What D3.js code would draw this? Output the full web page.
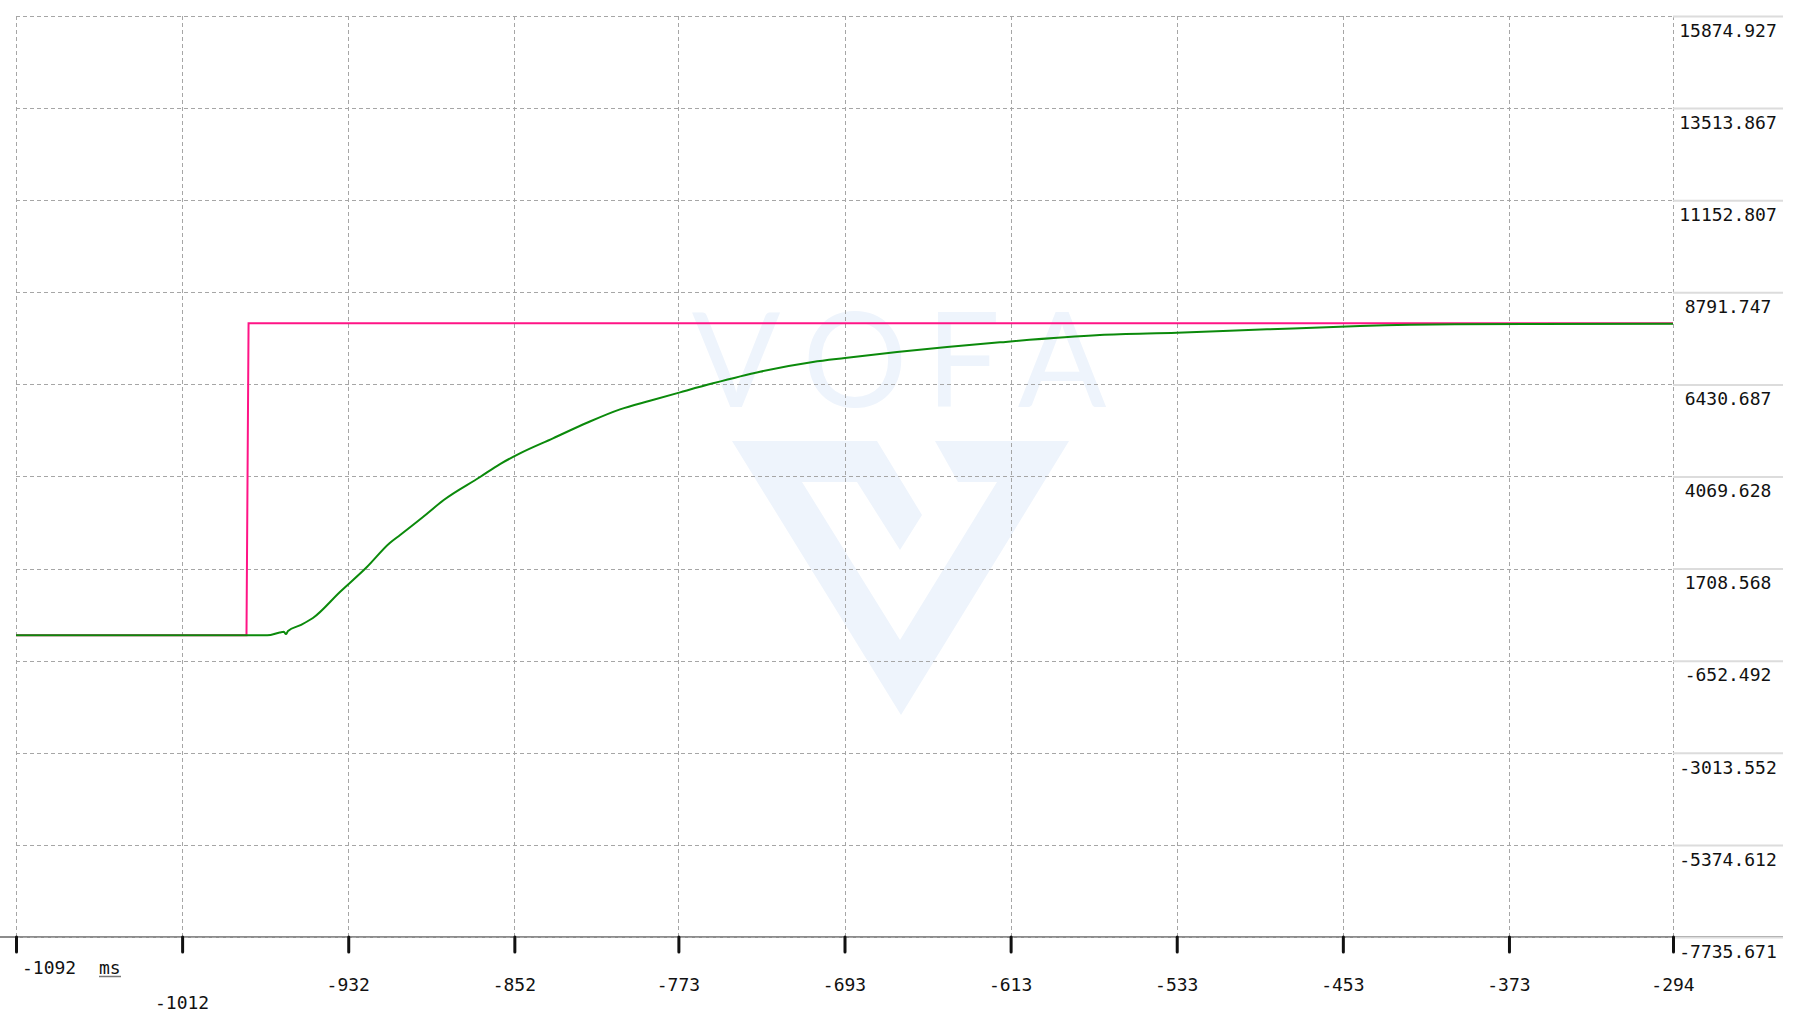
<!DOCTYPE html>
<html>
<head>
<meta charset="utf-8">
<script src="https://cdn.jsdelivr.net/npm/d3@7"></script>
<style>
  body { margin: 0; background: #ffffff; }
  text { font-family: "DejaVu Sans Mono", "Liberation Mono", monospace; }
</style>
</head>
<body>
<div id="chart"></div>
<script>
// #####################################################
// Data
//
var xTicks = [-1092, -1012, -932, -852, -773, -693, -613, -533, -453, -373, -294];
var yTicks = [15874.927, 13513.867, 11152.807, 8791.747, 6430.687, 4069.628,
              1708.568, -652.492, -3013.552, -5374.612, -7735.671];
var xUnit = 'ms';

// target (pink step)
var targetTime  = [-1092, -981, -980, -294];
var targetValue = [0, 0, 8000, 8000];

// measured response (green)
var speedTime  = [-1092, -971, -965, -963, -962, -961, -955, -949, -936, -923,
                  -912, -907, -896, -886, -868.5, -858.9, -849.3, -833.4, -817,
                  -801.1, -786.7, -772.2, -756.3, -733.7, -708.2, -692.8, -667.7,
                  -643.6, -618.1, -570, -532.9, -489.5, -444.7, -399, -361, -294];
var speedValue = [0, 0, 70, 90, 30, 110, 260, 441, 1108, 1748,
                  2364, 2569, 3030, 3466, 4056, 4389, 4663, 5048, 5448,
                  5791, 6012, 6227, 6458, 6755, 7004, 7106, 7260,
                  7388, 7509, 7696, 7755, 7842, 7926, 7970, 7978, 7985];

// #####################################################
// Layout
//
var W = 1799, H = 1028;
var plotLeft = 16, plotRight = 1673, plotTop = 16, plotBottom = 937;
var axisWidth = 110;

var svg = d3.select('#chart').append('svg')
    .attr('width', W)
    .attr('height', H);

var x = d3.scaleLinear()
    .domain([xTicks[0], xTicks[xTicks.length - 1]])
    .range([plotLeft, plotRight]);

var y = d3.scaleLinear()
    .domain([yTicks[yTicks.length - 1], yTicks[0]])
    .range([plotBottom, plotTop]);

// #####################################################
// Watermark (VOFA logo)
//
var wm = svg.append('g').attr('fill', '#eef4fc');

wm.append('polygon')
    .attr('points', [[732,441],[877,441],[922,515],[900,550],[857,482],[802,482],
                     [900,640],[997,482],[958,482],[935,441],[1069,441],[901,715]]
                     .map(function(p) { return p.join(','); }).join(' '));

var letters = [['V', 736], ['O', 855], ['F', 963], ['A', 1062]];
wm.selectAll('text.wm')
    .data(letters)
    .enter().append('text')
      .attr('class', 'wm')
      .attr('x', function(d) { return d[1]; })
      .attr('y', 407)
      .attr('text-anchor', 'middle')
      .style('font-family', 'Lato, "Open Sans", sans-serif')
      .style('font-size', '131px')
      .style('font-weight', 400)
      .text(function(d) { return d[0]; });

// #####################################################
// Grid
//
svg.append('line')
    .attr('x1', 0).attr('x2', plotRight + axisWidth)
    .attr('y1', plotBottom).attr('y2', plotBottom)
    .style('stroke', '#8c8c8c')
    .attr('stroke-width', 2);

svg.append('g').selectAll('line')
    .data(yTicks)
    .enter().append('line')
      .attr('x1', plotLeft).attr('x2', plotRight)
      .attr('y1', function(d) { return Math.round(y(d)) + 0.5; })
      .attr('y2', function(d) { return Math.round(y(d)) + 0.5; })
      .style('stroke', '#a6a6a6')
      .style('stroke-dasharray', '4,3');

svg.append('g').selectAll('line')
    .data(xTicks)
    .enter().append('line')
      .attr('x1', function(d) { return Math.round(x(d)) + 0.5; })
      .attr('x2', function(d) { return Math.round(x(d)) + 0.5; })
      .attr('y1', plotTop).attr('y2', plotBottom)
      .style('stroke', '#a6a6a6')
      .style('stroke-dasharray', '4,3');

// #####################################################
// Right axis: light solid tick lines + centred labels
//
var yAxis = svg.append('g')
    .attr('transform', 'translate(' + plotRight + ',0)')
    .call(d3.axisRight(y)
      .tickValues(yTicks)
      .tickSize(axisWidth)
      .tickFormat(function(d) { return d.toFixed(3); }));

yAxis.select('.domain').remove();
yAxis.selectAll('line')
    .style('stroke', '#dcdcdc')
    .attr('stroke-width', 2);
yAxis.selectAll('text')
    .attr('x', 55)
    .attr('y', 14)
    .attr('dy', '0.35em')
    .style('text-anchor', 'middle')
    .style('font-family', '"DejaVu Sans Mono", monospace')
    .style('font-size', '18px')
    .style('fill', '#111');

// #####################################################
// Bottom axis: thick ticks, staggered labels
//
var xAxis = svg.append('g')
    .attr('transform', 'translate(0,' + plotBottom + ')')
    .call(d3.axisBottom(x)
      .tickValues(xTicks)
      .tickSize(15)
      .tickFormat(''));

xAxis.select('.domain').remove();
xAxis.selectAll('line')
    .style('stroke', '#111')
    .attr('stroke-width', 3)
    .attr('stroke-linecap', 'round');

function labelY (i) {
  if (i == 0) return 968;
  if (i == 1) return 1003;
  return 985;
}

svg.append('g').selectAll('text')
    .data(xTicks)
    .enter().append('text')
      .attr('x', function(d, i) { return i == 0 ? x(d) + 6 : x(d); })
      .attr('y', function(d, i) { return labelY(i); })
      .attr('dy', '0.35em')
      .style('text-anchor', function(d, i) { return i == 0 ? 'start' : 'middle'; })
      .style('font-size', '18px')
      .style('fill', '#111')
      .text(function(d) { return String(d); });

svg.append('text')
    .attr('x', 99)
    .attr('y', 968)
    .attr('dy', '0.35em')
    .style('font-size', '18px')
    .style('fill', '#111')
    .text(xUnit);

svg.append('line')
    .attr('x1', 99).attr('x2', 121)
    .attr('y1', 976.5).attr('y2', 976.5)
    .style('stroke', '#777')
    .attr('stroke-width', 1.5);

// #####################################################
// Series
//
var line = d3.line()
    .x(function(d) { return x(d[0]); })
    .y(function(d) { return y(d[1]); });

svg.append('path')
    .datum(d3.zip(targetTime, targetValue))
    .attr('d', line)
    .style('fill', 'none')
    .style('stroke', '#ff1486')
    .attr('stroke-width', 2);

svg.append('path')
    .datum(d3.zip(speedTime, speedValue))
    .attr('d', line.curve(d3.curveMonotoneX))
    .style('fill', 'none')
    .style('stroke', '#0b8a0b')
    .attr('stroke-width', 2);
</script>
</body>
</html>
